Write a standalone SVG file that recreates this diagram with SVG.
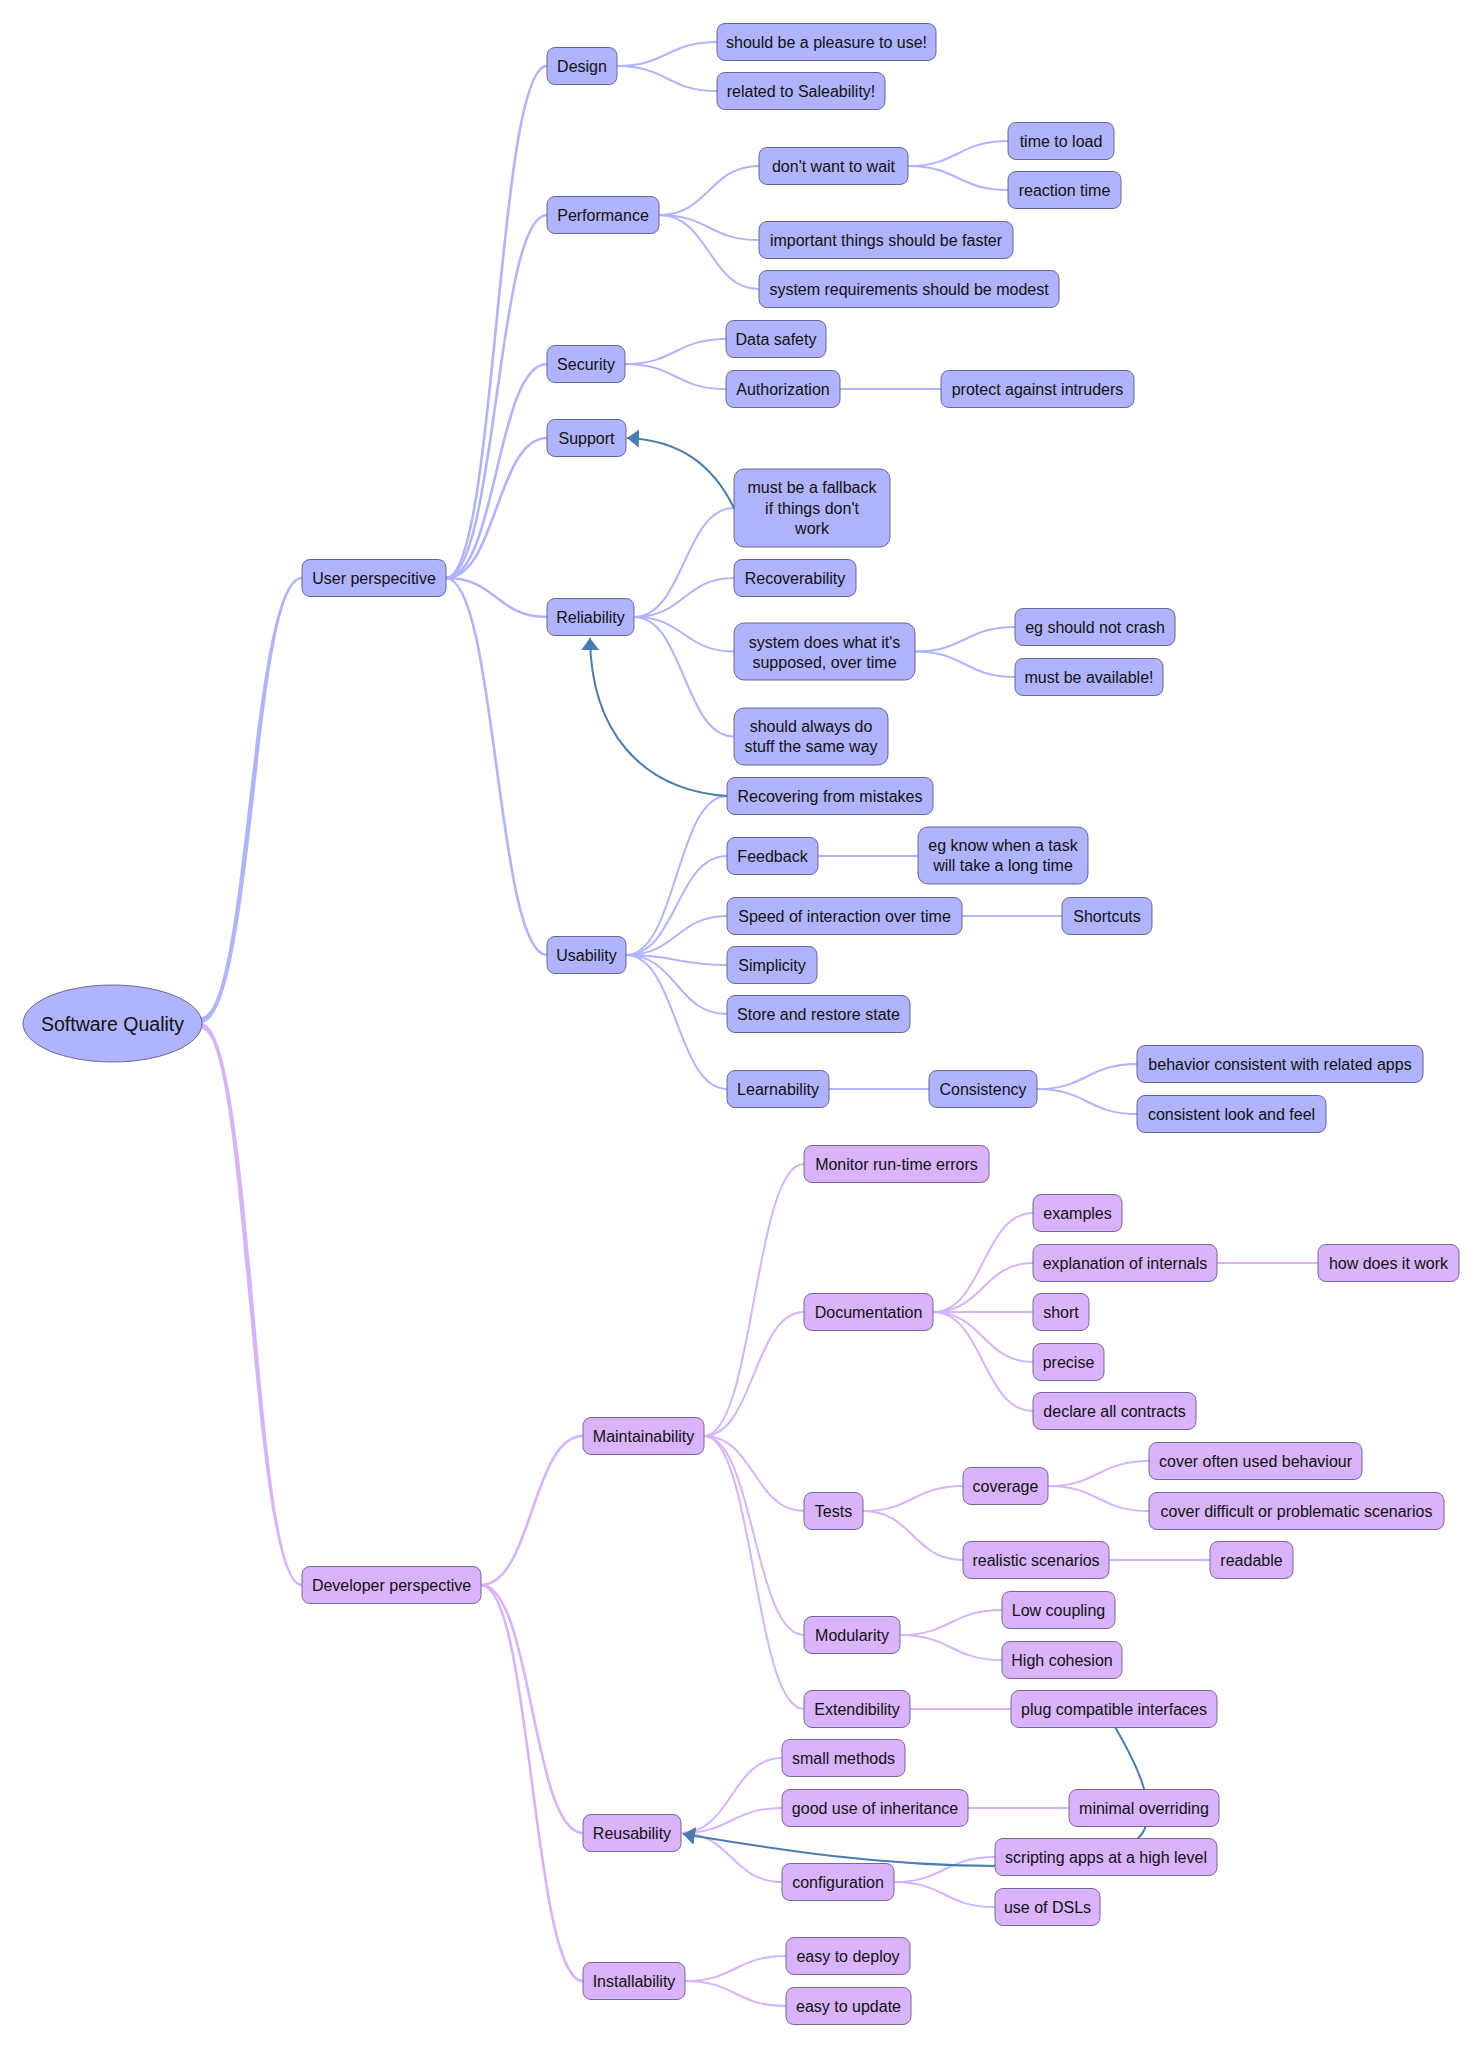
<svg xmlns="http://www.w3.org/2000/svg" width="1483" height="2048" viewBox="0 0 1483 2048">
<style>
.u rect,.u ellipse{fill:#b0b4fe;stroke:#5a5a86;stroke-width:0.9}
.d rect{fill:#d9b4fd;stroke:#6a5a86;stroke-width:0.9}
text{font-family:"Liberation Sans",Arial,Helvetica,sans-serif;font-size:16px;fill:#111;text-anchor:middle}
.lu{fill:none;stroke:#b0b4fd;stroke-width:2}
.ld{fill:none;stroke:#d7b3fb;stroke-width:2}
.l1{stroke-width:2.6}
.x{fill:none;stroke:#4a7bb1;stroke-width:2;marker-end:url(#arr)}
</style>
<defs>
<marker id="arr" markerUnits="userSpaceOnUse" markerWidth="14" markerHeight="20" refX="12" refY="9" orient="auto">
<path d="M0,0 L12,9 L0,18 Z" fill="#4a7bb1"/>
</marker>
</defs>
<rect width="1483" height="2048" fill="#ffffff"/>
<g id="connectors">
<path d="M201,1017 C248.5,1017 249,576.8 302,576.8 L302,579.2 C254,579.2 254.5,1023 201,1023 Z" fill="#b0b4fd"/>
<path d="M201,1023 C254.5,1023 254,1583.8 302,1583.8 L302,1586.2 C249,1586.2 248.5,1029 201,1029 Z" fill="#d7b3fb"/>
<g class="lu">
<path class="l1" d="M446,578 C496.5,578 496.5,66 547,66"/>
<path class="l1" d="M446,578 C496.5,578 496.5,215 547,215"/>
<path class="l1" d="M446,578 C496.5,578 496.5,364 547,364"/>
<path class="l1" d="M446,578 C496.5,578 496.5,438 547,438"/>
<path class="l1" d="M446,578 C496.5,578 496.5,617 547,617"/>
<path class="l1" d="M446,578 C496.5,578 496.5,955 547,955"/>
<path d="M617,66 C667,66 667,42 717,42"/>
<path d="M617,66 C667,66 667,91 717,91"/>
<path d="M659,215 C709,215 709,166 759,166"/>
<path d="M659,215 C709,215 709,240 759,240"/>
<path d="M659,215 C709,215 709,289 759,289"/>
<path d="M908,166 C958,166 958,141 1008,141"/>
<path d="M908,166 C958,166 958,190 1008,190"/>
<path d="M625,364 C675.5,364 675.5,339 726,339"/>
<path d="M625,364 C675.5,364 675.5,389 726,389"/>
<path d="M840,389 L941,389"/>
<path d="M634,617 C684,617 684,508 734,508"/>
<path d="M634,617 C684,617 684,578 734,578"/>
<path d="M634,617 C684,617 684,651.5 734,651.5"/>
<path d="M634,617 C684,617 684,736.5 734,736.5"/>
<path d="M915,651.5 C965,651.5 965,627 1015,627"/>
<path d="M915,651.5 C965,651.5 965,677 1015,677"/>
<path d="M626,955 C676.5,955 676.5,796 727,796"/>
<path d="M626,955 C676.5,955 676.5,856 727,856"/>
<path d="M626,955 C676.5,955 676.5,916 727,916"/>
<path d="M626,955 C676.5,955 676.5,965 727,965"/>
<path d="M626,955 C676.5,955 676.5,1014 727,1014"/>
<path d="M626,955 C676.5,955 676.5,1089 727,1089"/>
<path d="M818,856 L918,856"/>
<path d="M962,916 L1062,916"/>
<path d="M829,1089 L929,1089"/>
<path d="M1037,1089 C1087,1089 1087,1064 1137,1064"/>
<path d="M1037,1089 C1087,1089 1087,1114 1137,1114"/>
</g>
<g class="ld">
<path class="l1" d="M481,1585 C532,1585 532,1436 583,1436"/>
<path class="l1" d="M481,1585 C532,1585 532,1833 583,1833"/>
<path class="l1" d="M481,1585 C532,1585 532,1981 583,1981"/>
<path d="M704,1436 C754,1436 754,1164 804,1164"/>
<path d="M704,1436 C754,1436 754,1312 804,1312"/>
<path d="M704,1436 C754,1436 754,1511 804,1511"/>
<path d="M704,1436 C754,1436 754,1635 804,1635"/>
<path d="M704,1436 C754,1436 754,1709 804,1709"/>
<path d="M933,1312 C983,1312 983,1213 1033,1213"/>
<path d="M933,1312 C983,1312 983,1263 1033,1263"/>
<path d="M933,1312 L1033,1312"/>
<path d="M933,1312 C983,1312 983,1362 1033,1362"/>
<path d="M933,1312 C983,1312 983,1411 1033,1411"/>
<path d="M1217,1263 L1318,1263"/>
<path d="M863,1511 C913,1511 913,1486 963,1486"/>
<path d="M863,1511 C913,1511 913,1560 963,1560"/>
<path d="M1048,1486 C1098.5,1486 1098.5,1461 1149,1461"/>
<path d="M1048,1486 C1098.5,1486 1098.5,1511 1149,1511"/>
<path d="M1109,1560 L1210,1560"/>
<path d="M900,1635 C951,1635 951,1610 1002,1610"/>
<path d="M900,1635 C951,1635 951,1660 1002,1660"/>
<path d="M910,1709 L1011,1709"/>
<path d="M681,1833 C731.5,1833 731.5,1758 782,1758"/>
<path d="M681,1833 C731.5,1833 731.5,1808 782,1808"/>
<path d="M681,1833 C731.5,1833 731.5,1882 782,1882"/>
<path d="M968,1808 L1069,1808"/>
<path d="M894,1882 C944.5,1882 944.5,1857 995,1857"/>
<path d="M894,1882 C944.5,1882 944.5,1907 995,1907"/>
<path d="M685,1981 C735.5,1981 735.5,1956 786,1956"/>
<path d="M685,1981 C735.5,1981 735.5,2006 786,2006"/>
</g>
<path class="x" d="M734,508 C712,463 678,440 627,438"/>
<path class="x" d="M727,796 C640,790 591,730 590,638"/>
<path class="x" d="M1115,1727 C1140,1770 1152,1800 1146,1825 S1100,1862 1000,1866 C880,1866 780,1850 683,1834"/>
</g>
<g id="n-root" class="u"><ellipse cx="112.5" cy="1023.5" rx="89.5" ry="38.5"/><text x="112.5" y="1030.5" style="font-size:19.5px">Software Quality</text></g>
<g id="n-user" class="u"><rect x="302" y="559.5" width="144" height="37" rx="8"/><text x="374" y="583.5">User perspecitive</text></g>
<g id="n-design" class="u"><rect x="547" y="47.5" width="70" height="37" rx="8"/><text x="582" y="71.5">Design</text></g>
<g id="n-pleasure" class="u"><rect x="717" y="23.5" width="219" height="37" rx="8"/><text x="826.5" y="47.5">should be a pleasure to use!</text></g>
<g id="n-saleability" class="u"><rect x="717" y="72.5" width="168" height="37" rx="8"/><text x="801" y="96.5">related to Saleability!</text></g>
<g id="n-performance" class="u"><rect x="547" y="196.5" width="112" height="37" rx="8"/><text x="603" y="220.5">Performance</text></g>
<g id="n-wait" class="u"><rect x="759" y="147.5" width="149" height="37" rx="8"/><text x="833.5" y="171.5">don't want to wait</text></g>
<g id="n-load" class="u"><rect x="1008" y="122.5" width="106" height="37" rx="8"/><text x="1061" y="146.5">time to load</text></g>
<g id="n-reaction" class="u"><rect x="1008" y="171.5" width="113" height="37" rx="8"/><text x="1064.5" y="195.5">reaction time</text></g>
<g id="n-faster" class="u"><rect x="759" y="221.5" width="254" height="37" rx="8"/><text x="886" y="245.5">important things should be faster</text></g>
<g id="n-modest" class="u"><rect x="759" y="270.5" width="300" height="37" rx="8"/><text x="909" y="294.5">system requirements should be modest</text></g>
<g id="n-security" class="u"><rect x="547" y="345.5" width="78" height="37" rx="8"/><text x="586" y="369.5">Security</text></g>
<g id="n-datasafety" class="u"><rect x="726" y="320.5" width="100" height="37" rx="8"/><text x="776" y="344.5">Data safety</text></g>
<g id="n-authorization" class="u"><rect x="726" y="370.5" width="114" height="37" rx="8"/><text x="783" y="394.5">Authorization</text></g>
<g id="n-intruders" class="u"><rect x="941" y="370.5" width="193" height="37" rx="8"/><text x="1037.5" y="394.5">protect against intruders</text></g>
<g id="n-support" class="u"><rect x="547" y="419.5" width="79" height="37" rx="8"/><text x="586.5" y="443.5">Support</text></g>
<g id="n-fallback" class="u"><rect x="734" y="469" width="156" height="78" rx="10"/><text x="812" y="493">must be a fallback</text><text x="812" y="514">if things don't</text><text x="812" y="534">work</text></g>
<g id="n-recoverability" class="u"><rect x="734" y="559.5" width="122" height="37" rx="8"/><text x="795" y="583.5">Recoverability</text></g>
<g id="n-reliability" class="u"><rect x="547" y="598.5" width="87" height="37" rx="8"/><text x="590.5" y="622.5">Reliability</text></g>
<g id="n-overtime" class="u"><rect x="734" y="623" width="181" height="57" rx="10"/><text x="824.5" y="648">system does what it's</text><text x="824.5" y="668">supposed, over time</text></g>
<g id="n-crash" class="u"><rect x="1015" y="608.5" width="160" height="37" rx="8"/><text x="1095" y="632.5">eg should not crash</text></g>
<g id="n-available" class="u"><rect x="1015" y="658.5" width="148" height="37" rx="8"/><text x="1089" y="682.5">must be available!</text></g>
<g id="n-sameway" class="u"><rect x="734" y="708" width="154" height="57" rx="10"/><text x="811" y="732">should always do</text><text x="811" y="752">stuff the same way</text></g>
<g id="n-mistakes" class="u"><rect x="727" y="777.5" width="206" height="37" rx="8"/><text x="830" y="801.5">Recovering from mistakes</text></g>
<g id="n-feedback" class="u"><rect x="727" y="837.5" width="91" height="37" rx="8"/><text x="772.5" y="861.5">Feedback</text></g>
<g id="n-longtime" class="u"><rect x="918" y="827" width="170" height="57" rx="10"/><text x="1003" y="851">eg know when a task</text><text x="1003" y="871">will take a long time</text></g>
<g id="n-speed" class="u"><rect x="727" y="897.5" width="235" height="37" rx="8"/><text x="844.5" y="921.5">Speed of interaction over time</text></g>
<g id="n-shortcuts" class="u"><rect x="1062" y="897.5" width="90" height="37" rx="8"/><text x="1107" y="921.5">Shortcuts</text></g>
<g id="n-usability" class="u"><rect x="547" y="936.5" width="79" height="37" rx="8"/><text x="586.5" y="960.5">Usability</text></g>
<g id="n-simplicity" class="u"><rect x="727" y="946.5" width="90" height="37" rx="8"/><text x="772" y="970.5">Simplicity</text></g>
<g id="n-store" class="u"><rect x="727" y="995.5" width="183" height="37" rx="8"/><text x="818.5" y="1019.5">Store and restore state</text></g>
<g id="n-learnability" class="u"><rect x="727" y="1070.5" width="102" height="37" rx="8"/><text x="778" y="1094.5">Learnability</text></g>
<g id="n-consistency" class="u"><rect x="929" y="1070.5" width="108" height="37" rx="8"/><text x="983" y="1094.5">Consistency</text></g>
<g id="n-relatedapps" class="u"><rect x="1137" y="1045.5" width="286" height="37" rx="8"/><text x="1280" y="1069.5">behavior consistent with related apps</text></g>
<g id="n-lookfeel" class="u"><rect x="1137" y="1095.5" width="189" height="37" rx="8"/><text x="1231.5" y="1119.5">consistent look and feel</text></g>
<g id="n-developer" class="d"><rect x="302" y="1566.5" width="179" height="37" rx="8"/><text x="391.5" y="1590.5">Developer perspective</text></g>
<g id="n-maintainability" class="d"><rect x="583" y="1417.5" width="121" height="37" rx="8"/><text x="643.5" y="1441.5">Maintainability</text></g>
<g id="n-monitor" class="d"><rect x="804" y="1145.5" width="185" height="37" rx="8"/><text x="896.5" y="1169.5">Monitor run-time errors</text></g>
<g id="n-documentation" class="d"><rect x="804" y="1293.5" width="129" height="37" rx="8"/><text x="868.5" y="1317.5">Documentation</text></g>
<g id="n-examples" class="d"><rect x="1033" y="1194.5" width="89" height="37" rx="8"/><text x="1077.5" y="1218.5">examples</text></g>
<g id="n-internals" class="d"><rect x="1033" y="1244.5" width="184" height="37" rx="8"/><text x="1125" y="1268.5">explanation of internals</text></g>
<g id="n-howwork" class="d"><rect x="1318" y="1244.5" width="141" height="37" rx="8"/><text x="1388.5" y="1268.5">how does it work</text></g>
<g id="n-short" class="d"><rect x="1033" y="1293.5" width="56" height="37" rx="8"/><text x="1061" y="1317.5">short</text></g>
<g id="n-precise" class="d"><rect x="1033" y="1343.5" width="71" height="37" rx="8"/><text x="1068.5" y="1367.5">precise</text></g>
<g id="n-contracts" class="d"><rect x="1033" y="1392.5" width="163" height="37" rx="8"/><text x="1114.5" y="1416.5">declare all contracts</text></g>
<g id="n-tests" class="d"><rect x="804" y="1492.5" width="59" height="37" rx="8"/><text x="833.5" y="1516.5">Tests</text></g>
<g id="n-coverage" class="d"><rect x="963" y="1467.5" width="85" height="37" rx="8"/><text x="1005.5" y="1491.5">coverage</text></g>
<g id="n-oftenused" class="d"><rect x="1149" y="1442.5" width="213" height="37" rx="8"/><text x="1255.5" y="1466.5">cover often used behaviour</text></g>
<g id="n-difficult" class="d"><rect x="1149" y="1492.5" width="295" height="37" rx="8"/><text x="1296.5" y="1516.5">cover difficult or problematic scenarios</text></g>
<g id="n-realistic" class="d"><rect x="963" y="1541.5" width="146" height="37" rx="8"/><text x="1036" y="1565.5">realistic scenarios</text></g>
<g id="n-readable" class="d"><rect x="1210" y="1541.5" width="83" height="37" rx="8"/><text x="1251.5" y="1565.5">readable</text></g>
<g id="n-modularity" class="d"><rect x="804" y="1616.5" width="96" height="37" rx="8"/><text x="852" y="1640.5">Modularity</text></g>
<g id="n-lowcoupling" class="d"><rect x="1002" y="1591.5" width="113" height="37" rx="8"/><text x="1058.5" y="1615.5">Low coupling</text></g>
<g id="n-highcohesion" class="d"><rect x="1002" y="1641.5" width="120" height="37" rx="8"/><text x="1062" y="1665.5">High cohesion</text></g>
<g id="n-extendibility" class="d"><rect x="804" y="1690.5" width="106" height="37" rx="8"/><text x="857" y="1714.5">Extendibility</text></g>
<g id="n-plug" class="d"><rect x="1011" y="1690.5" width="206" height="37" rx="8"/><text x="1114" y="1714.5">plug compatible interfaces</text></g>
<g id="n-reusability" class="d"><rect x="583" y="1814.5" width="98" height="37" rx="8"/><text x="632" y="1838.5">Reusability</text></g>
<g id="n-smallmethods" class="d"><rect x="782" y="1739.5" width="123" height="37" rx="8"/><text x="843.5" y="1763.5">small methods</text></g>
<g id="n-inheritance" class="d"><rect x="782" y="1789.5" width="186" height="37" rx="8"/><text x="875" y="1813.5">good use of inheritance</text></g>
<g id="n-overriding" class="d"><rect x="1069" y="1789.5" width="150" height="37" rx="8"/><text x="1144" y="1813.5">minimal overriding</text></g>
<g id="n-configuration" class="d"><rect x="782" y="1863.5" width="112" height="37" rx="8"/><text x="838" y="1887.5">configuration</text></g>
<g id="n-scripting" class="d"><rect x="995" y="1838.5" width="222" height="37" rx="8"/><text x="1106" y="1862.5">scripting apps at a high level</text></g>
<g id="n-dsls" class="d"><rect x="995" y="1888.5" width="105" height="37" rx="8"/><text x="1047.5" y="1912.5">use of DSLs</text></g>
<g id="n-installability" class="d"><rect x="583" y="1962.5" width="102" height="37" rx="8"/><text x="634" y="1986.5">Installability</text></g>
<g id="n-deploy" class="d"><rect x="786" y="1937.5" width="124" height="37" rx="8"/><text x="848" y="1961.5">easy to deploy</text></g>
<g id="n-update" class="d"><rect x="786" y="1987.5" width="125" height="37" rx="8"/><text x="848.5" y="2011.5">easy to update</text></g>
</svg>
